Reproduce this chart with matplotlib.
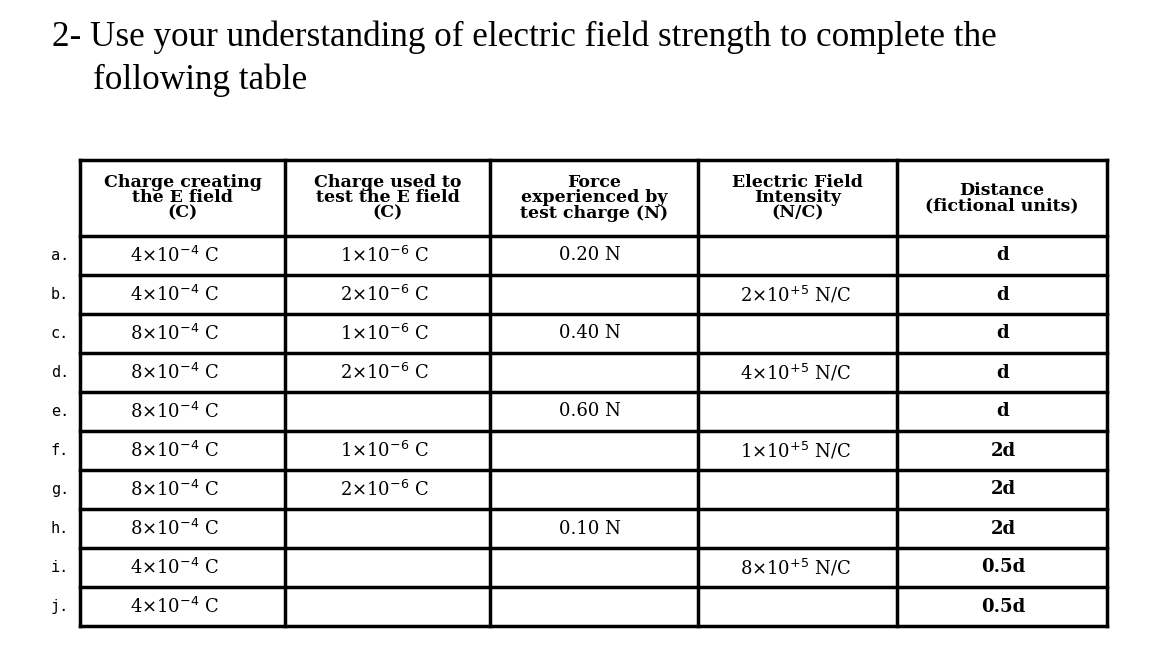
import matplotlib
matplotlib.use("Agg")
import matplotlib.pyplot as plt

row_labels = ["a.", "b.", "c.", "d.", "e.", "f.", "g.", "h.", "i.", "j."]
headers = ["Charge creating\nthe E field\n(C)", "Charge used to\ntest the E field\n(C)",
           "Force\nexperienced by\ntest charge (N)", "Electric Field\nIntensity\n(N/C)",
           "Distance\n(fictional units)"]
source_charge = ["4x10-4", "4x10-4", "8x10-4", "8x10-4", "8x10-4", "8x10-4", "8x10-4", "8x10-4", "4x10-4", "4x10-4"]
test_charge = ["1x10-6", "2x10-6", "1x10-6", "2x10-6", "", "1x10-6", "2x10-6", "", "", ""]
force = ["0.20 N", "", "0.40 N", "", "0.60 N", "", "", "0.10 N", "", ""]
field = ["", "2x10+5", "", "4x10+5", "", "1x10+5", "", "", "8x10+5", ""]
distance = ["d", "d", "d", "d", "d", "2d", "2d", "2d", "0.5d", "0.5d"]

def sci(s, unit):
    if not s:
        return ""
    m, e = s.split("x10")
    return rf"{m}$\times$10$^{{{e}}}$ {unit}"

fig = plt.figure(figsize=(11.5, 6.57), dpi=100)
ax = fig.add_axes([0, 0, 1, 1])
ax.set_xlim(0, 1150); ax.set_ylim(657, 0); ax.axis("off")

ax.text(52, 37, "2- Use your understanding of electric field strength to complete the",
        fontsize=25.3, family="Liberation Serif", va="center")
ax.text(93, 80, "following table", fontsize=25.3, family="Liberation Serif", va="center")

xs = [80, 285, 490, 698, 897, 1107]
top, hb, rh = 160, 236, 39
ys = [hb + i * rh for i in range(len(row_labels) + 1)]
ax.plot([xs[0], xs[-1]], [top, top], color="black", lw=2.5)
for y in ys:
    ax.plot([xs[0], xs[-1]], [y, y], color="black", lw=2.5)
for x in xs:
    ax.plot([x, x], [top, ys[-1]], color="black", lw=2.5)

for i, h in enumerate(headers):
    ax.text((xs[i] + xs[i + 1]) / 2, (top + hb) / 2, h, ha="center", va="center",
            fontsize=12.5, family="DejaVu Serif", fontweight="bold", linespacing=0.85)

for r in range(len(row_labels)):
    yc = (ys[r] + ys[r + 1]) / 2
    ax.text(60, yc, row_labels[r], ha="center", va="center", fontsize=11, family="DejaVu Sans Mono")
    cells = [sci(source_charge[r], "C"), sci(test_charge[r], "C"), force[r],
             sci(field[r], "N/C"), distance[r]]
    cx = [175, 385, 590, 795, 1003]
    for c, (t, x) in enumerate(zip(cells, cx)):
        ax.text(x, yc, t, ha="center", va="center", fontsize=13, family="DejaVu Serif",
                fontweight="bold" if c == 4 else "normal")

fig.savefig("out.png", dpi=100)
